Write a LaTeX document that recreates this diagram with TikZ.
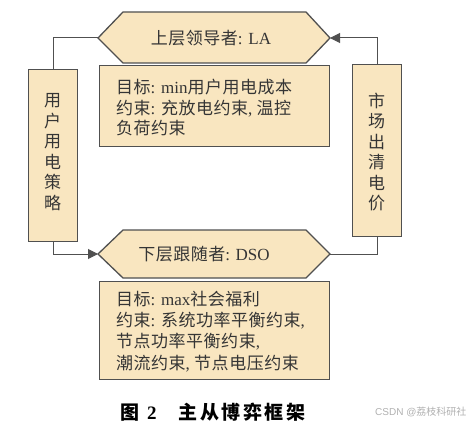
\documentclass[tikz,border=0pt]{standalone}
\usepackage{fontspec}
\setmainfont{Liberation Serif}
\setsansfont{Liberation Sans}
\newfontfamily\cjk[LetterSpace=3]{Noto Sans CJK SC}
\newfontfamily\cjkcap[LetterSpace=13]{Noto Sans CJK SC}
\newfontfamily\cjkwm{Noto Sans CJK SC}
\usetikzlibrary{arrows.meta}
\definecolor{boxfill}{HTML}{F9E6C0}
\definecolor{boxline}{HTML}{505050}
\definecolor{txt}{HTML}{353535}
\definecolor{wmark}{HTML}{B0B0B0}
\newcommand\zhtxt[1]{{\cjk #1}}
\begin{document}
\begin{tikzpicture}[x=1pt,y=-1pt,
  shapebox/.style={draw=boxline,line width=1.3pt,fill=boxfill},
  lbl/.style={text=txt,font=\fontsize{17}{20.5}\selectfont,inner sep=0pt},
  link/.style={draw=boxline,line width=1pt},
  tip/.style={-{Triangle[length=10pt,width=10pt]}}]
\useasboundingbox (0,0) rectangle (474,428);
% top hexagon
\coordinate (LAw) at (98,38);
\coordinate (LAe) at (330,38);
\draw[shapebox] (LAw) -- (123,12) -- (306,12) -- (LAe) -- (306,63) -- (123,63) -- cycle;
\node[lbl] (LA) at (211,38) {\zhtxt{上层领导者}: LA};
% top goal box
\node[shapebox,minimum width=230pt,minimum height=81pt,anchor=north west,inner sep=0pt] (goalA) at (99,65) {};
\node[lbl,align=left,anchor=north west,font=\fontsize{17}{20.5}\selectfont] (goalAtxt) at (116,79)
  {\zhtxt{目标}: min\zhtxt{用户用电成本}\\\zhtxt{约束}: \zhtxt{充放电约束}, \zhtxt{温控}\\\zhtxt{负荷约束}};
% bottom hexagon
\coordinate (DSOw) at (98,254);
\coordinate (DSOe) at (330,254);
\draw[shapebox] (DSOw) -- (123,230) -- (306,230) -- (DSOe) -- (306,278) -- (123,278) -- cycle;
\node[lbl] (DSO) at (204,254) {\zhtxt{下层跟随者}: DSO};
% bottom goal box
\node[shapebox,minimum width=230pt,minimum height=98pt,anchor=north west,inner sep=0pt] (goalB) at (99,281) {};
\node[lbl,align=left,anchor=north west,font=\fontsize{17}{21.2}\selectfont] (goalBtxt) at (116,291)
  {\zhtxt{目标}: max\zhtxt{社会福利}\\\zhtxt{约束}: \zhtxt{系统功率平衡约束},\\\zhtxt{节点功率平衡约束},\\\zhtxt{潮流约束}, \zhtxt{节点电压约束}};
% side boxes
\node[shapebox,minimum width=49pt,minimum height=172pt,anchor=north west,inner sep=0pt] (ubox) at (28,69) {};
\node[lbl,align=center] (utxt) at (52.5,152)
  {\zhtxt{用}\\\zhtxt{户}\\\zhtxt{用}\\\zhtxt{电}\\\zhtxt{策}\\\zhtxt{略}};
\node[shapebox,minimum width=49pt,minimum height=172pt,anchor=north west,inner sep=0pt] (mbox) at (352,64) {};
\node[lbl,align=center] (mtxt) at (376.5,152)
  {\zhtxt{市}\\\zhtxt{场}\\\zhtxt{出}\\\zhtxt{清}\\\zhtxt{电}\\\zhtxt{价}};
% connectors
\draw[link] (ubox.north) |- (LAw);
\draw[link,tip] (mbox.north) |- (LAe);
\draw[link,tip] (ubox.south) |- (DSOw);
\draw[link] (DSOe) -| (mbox.south);
% caption
\node[anchor=west,inner sep=0pt,text=black,font=\fontsize{19}{21}\selectfont\bfseries] (cap) at (120,412)
  {{\cjkwm 图}\hspace{8pt}2\hspace{22pt}{\cjkcap 主从博弈框架}};
\node[anchor=west,inner sep=0pt,text=wmark,font=\sffamily\fontsize{10}{12}\selectfont] (wm) at (375,412)
  {CSDN @{\cjkwm 荔枝科研社}};
\end{tikzpicture}
\end{document}
